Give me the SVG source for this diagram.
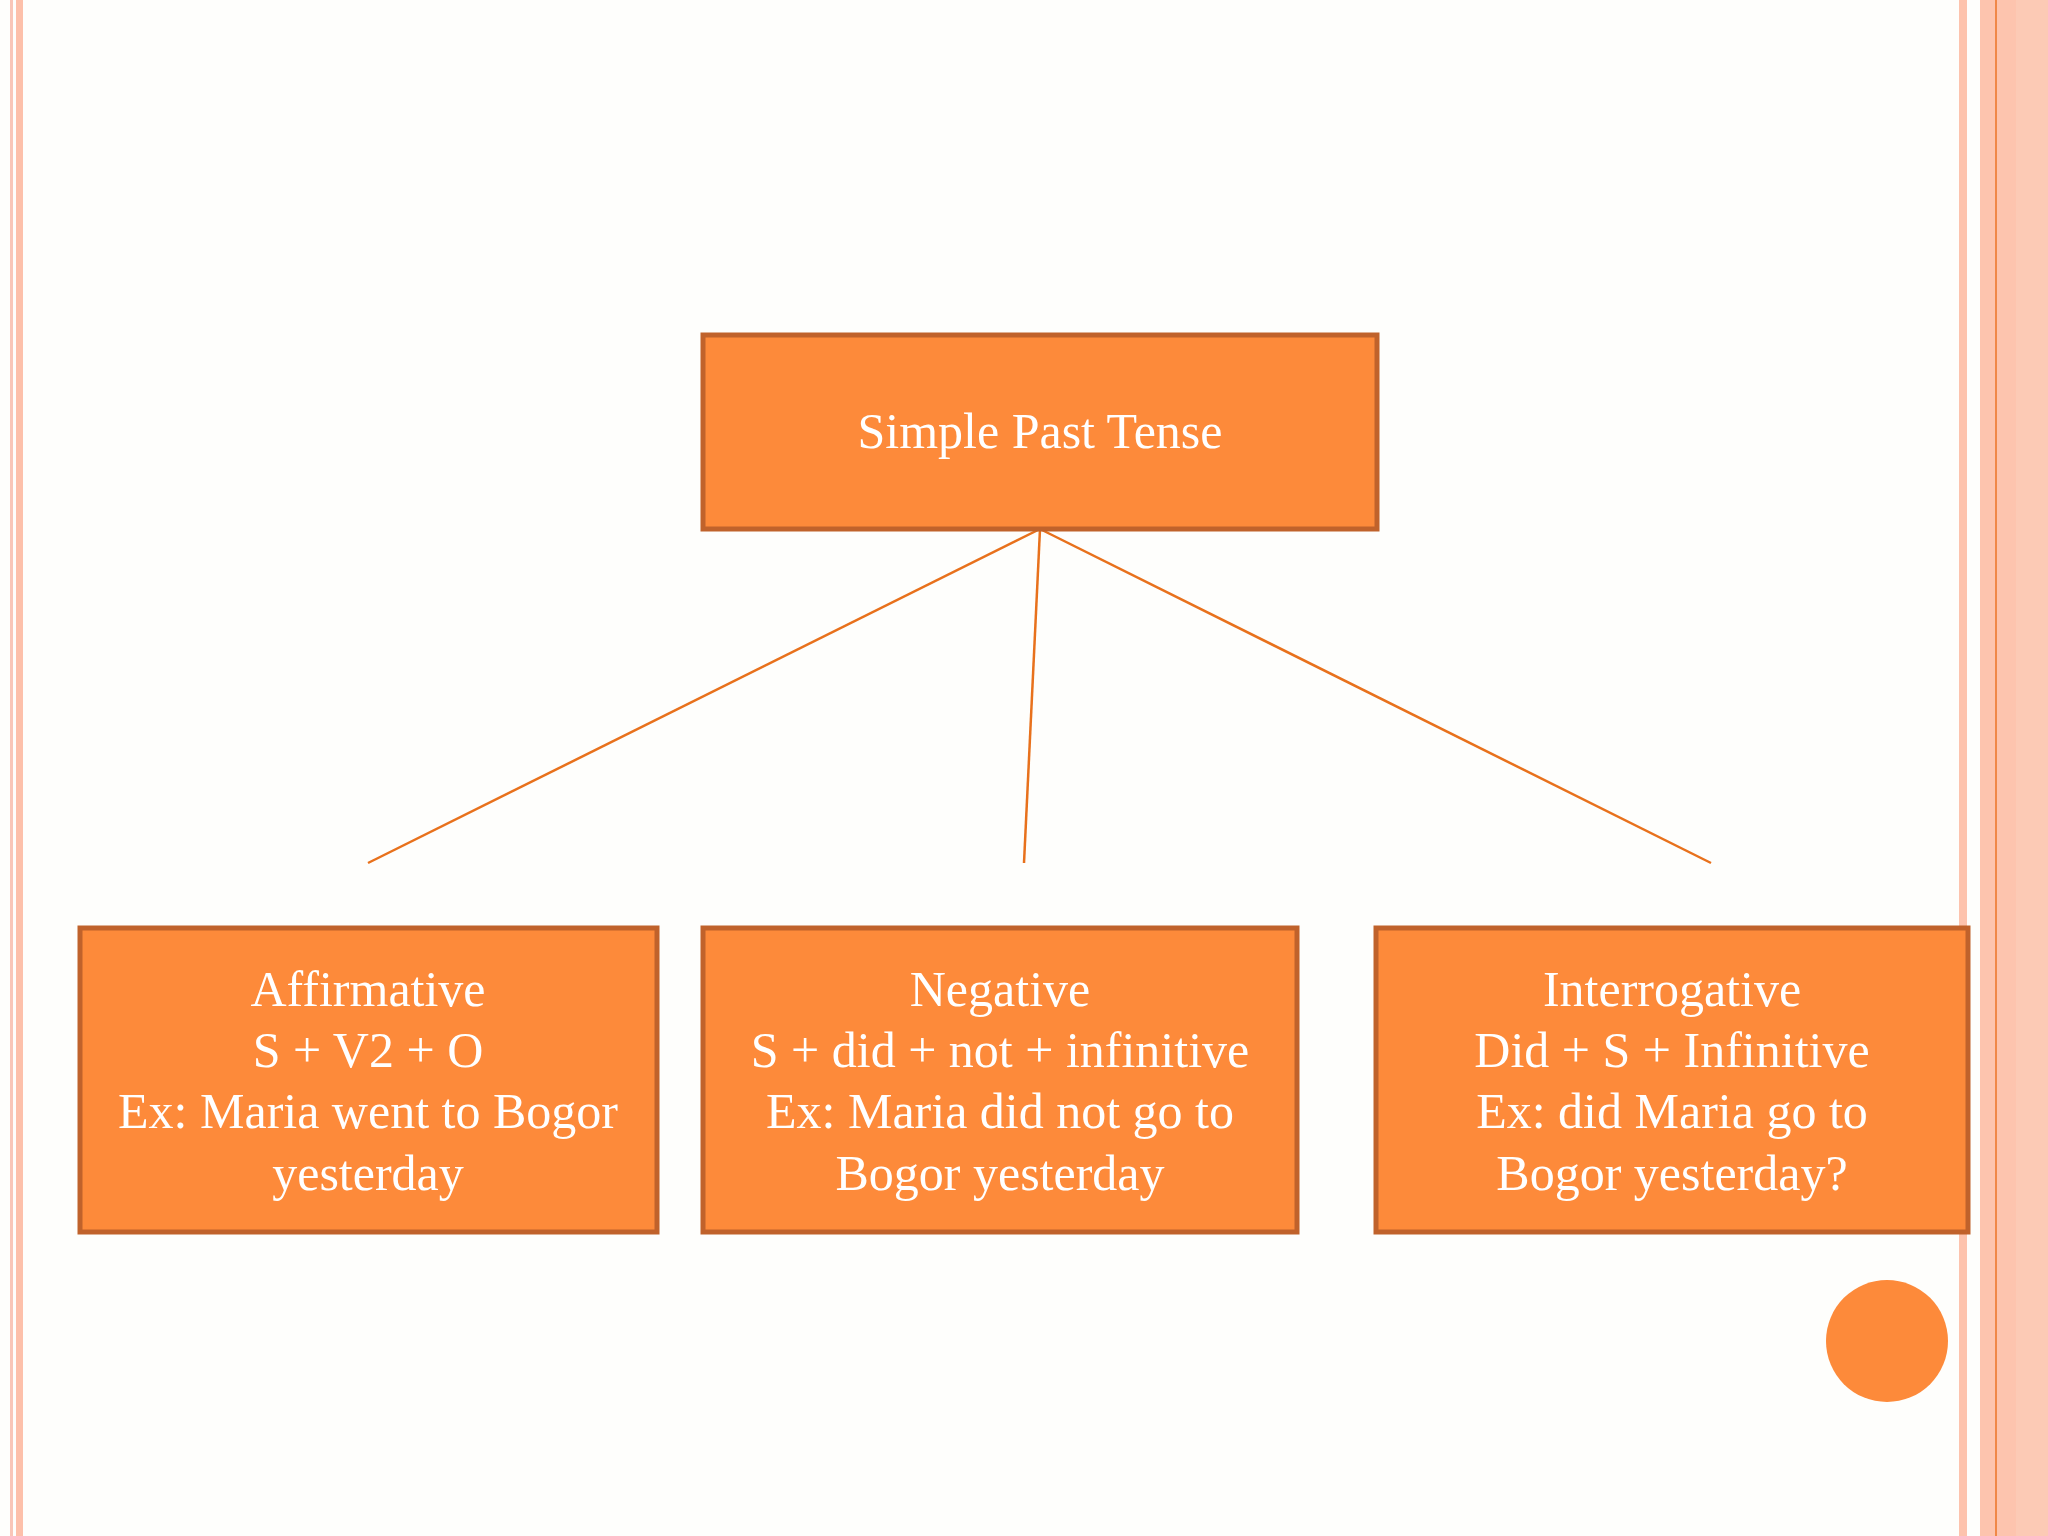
<svg xmlns="http://www.w3.org/2000/svg" width="2048" height="1536" viewBox="0 0 2048 1536">
<style>
.box{fill:#FD8A3A;stroke:#C0622B;stroke-width:5}
.t{font-family:"Liberation Serif",serif;font-size:50px;fill:#fff;text-anchor:middle}
.c{stroke:#E8711C;stroke-width:2.5;fill:none}
</style>
<rect width="2048" height="1536" fill="#FEFEFC"/>
<rect x="10" y="0" width="3" height="1536" fill="#F9C6B8"/>
<rect x="16" y="0" width="7" height="1536" fill="#FDC0AA"/>
<rect x="1959" y="0" width="8" height="1536" fill="#FDC3AD"/>
<rect x="1980" y="0" width="68" height="1536" fill="#FDC4AE"/>
<rect x="2016" y="0" width="32" height="1536" fill="#FCCAB5"/>
<rect x="1995" y="0" width="2" height="1536" fill="#F08848"/>
<g id="connectors">
<line class="c" x1="1040" y1="529" x2="368" y2="863"/>
<line class="c" x1="1040" y1="529" x2="1024" y2="863"/>
<line class="c" x1="1040" y1="529" x2="1711" y2="863"/>
</g>
<g id="root"><rect class="box" x="703" y="335" width="674" height="194"/>
<text class="t" x="1040" y="448">Simple Past Tense</text></g>
<g id="affirmative"><rect class="box" x="80" y="928" width="577" height="304"/>
<text class="t" x="368" y="1006">Affirmative</text><text class="t" x="368" y="1067">S + V2 + O</text><text class="t" x="368" y="1128">Ex: Maria went to Bogor</text><text class="t" x="368" y="1190">yesterday</text></g>
<g id="negative"><rect class="box" x="703" y="928" width="594" height="304"/>
<text class="t" x="1000" y="1006">Negative</text><text class="t" x="1000" y="1067">S + did + not + infinitive</text><text class="t" x="1000" y="1128">Ex: Maria did not go to</text><text class="t" x="1000" y="1190">Bogor yesterday</text></g>
<g id="interrogative"><rect class="box" x="1376" y="928" width="592" height="304"/>
<text class="t" x="1672" y="1006">Interrogative</text><text class="t" x="1672" y="1067">Did + S + Infinitive</text><text class="t" x="1672" y="1128">Ex: did Maria go to</text><text class="t" x="1672" y="1190">Bogor yesterday?</text></g>
<circle cx="1887" cy="1341" r="61" fill="#FD8A3A"/>
</svg>
